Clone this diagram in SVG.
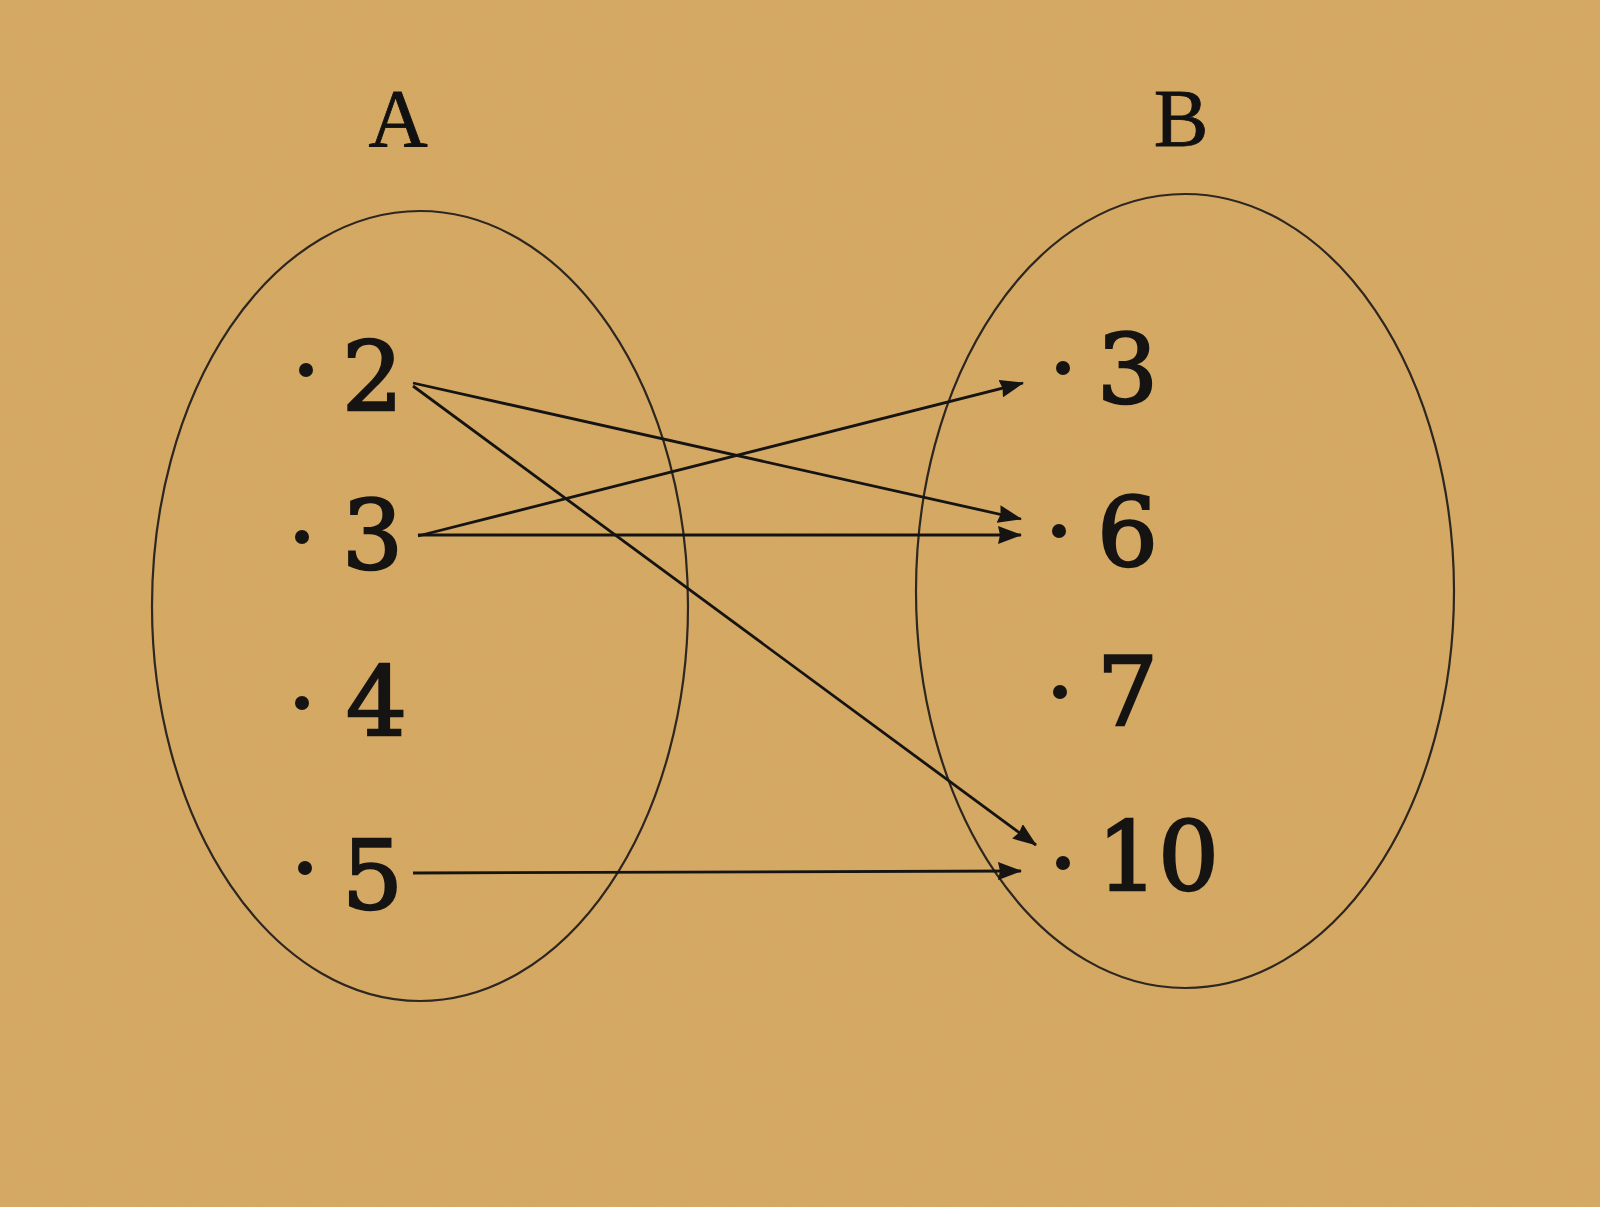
<svg xmlns="http://www.w3.org/2000/svg" width="1600" height="1207" viewBox="0 0 1600 1207">
<style>
.bg{fill:#D5A963}
.set{fill:none;stroke:#2e2620;stroke-width:2.2}
.title{font-family:"Liberation Serif",serif;font-size:82px;fill:#111;stroke:#111;stroke-width:0.8;text-anchor:middle}
.num{font-family:"DejaVu Serif",serif;font-size:96px;fill:#161412;stroke:#161412;stroke-width:2.4}
.dot{fill:#161412}
.edge{fill:none;stroke:#161412;stroke-width:2.8}
</style>
<defs>
<marker id="ah" viewBox="0 0 24 18" refX="23" refY="9" markerWidth="24" markerHeight="18" markerUnits="userSpaceOnUse" orient="auto">
<path d="M0,0 L24,9 L0,18 L2,9 Z" fill="#161412"/>
</marker>
<filter id="paper" x="0" y="0" width="100%" height="100%">
<feTurbulence type="fractalNoise" baseFrequency="0.9" numOctaves="2" seed="3" result="n"/>
<feColorMatrix in="n" type="matrix" values="0 0 0 0 0.55  0 0 0 0 0.38  0 0 0 0 0.15  0 0 0 -1.6 1.0"/>
</filter>
</defs>
<rect class="bg" x="0" y="0" width="1600" height="1207"/>
<rect x="0" y="0" width="1600" height="1207" filter="url(#paper)" opacity="0.25"/>
<g id="setA">
<ellipse class="set" cx="420" cy="606" rx="268" ry="395"/>
<text class="title" x="398" y="146">A</text>
</g>
<g id="setB">
<ellipse class="set" cx="1185" cy="591" rx="269" ry="397"/>
<text class="title" x="1181" y="146">B</text>
</g>
<g id="a2"><circle class="dot" cx="306" cy="370" r="7"/><text class="num" x="342" y="410">2</text></g>
<g id="a3"><circle class="dot" cx="302" cy="537" r="7"/><text class="num" x="342" y="569">3</text></g>
<g id="a4"><circle class="dot" cx="302" cy="703" r="7"/><text class="num" x="346" y="735">4</text></g>
<g id="a5"><circle class="dot" cx="305" cy="868" r="7"/><text class="num" x="342" y="909">5</text></g>
<g id="b3"><circle class="dot" cx="1063" cy="368" r="7"/><text class="num" x="1097" y="403">3</text></g>
<g id="b6"><circle class="dot" cx="1059" cy="531" r="7"/><text class="num" x="1097" y="566">6</text></g>
<g id="b7"><circle class="dot" cx="1060" cy="692" r="7"/><text class="num" x="1097" y="725">7</text></g>
<g id="b10"><circle class="dot" cx="1063" cy="863" r="7"/><text class="num" x="1097" y="890">10</text></g>
<g id="connectors">
<line class="edge" x1="413" y1="383" x2="1021" y2="519" marker-end="url(#ah)"/>
<line class="edge" x1="413" y1="386" x2="1036" y2="845" marker-end="url(#ah)"/>
<line class="edge" x1="418" y1="536" x2="1023" y2="383" marker-end="url(#ah)"/>
<line class="edge" x1="418" y1="535" x2="1021" y2="535" marker-end="url(#ah)"/>
<line class="edge" x1="413" y1="873" x2="1021" y2="871" marker-end="url(#ah)"/>
</g>
</svg>
